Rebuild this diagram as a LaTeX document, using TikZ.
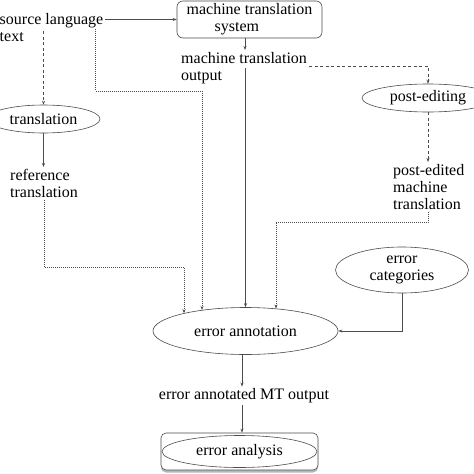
\documentclass[tikz,border=0pt]{standalone}
\usepackage{fontspec}
\setmainfont{Liberation Serif}
\usetikzlibrary{arrows.meta,shapes.geometric,shadows}
\definecolor{linec}{gray}{0.3}
\begin{document}
\begin{tikzpicture}[x=1pt,y=-1pt,
  every node/.style={font=\fontsize{16}{17}\selectfont, text=black},
  txt/.style={inner sep=2pt, align=left, anchor=north west},
  oval/.style={ellipse, draw=linec, line width=0.6pt, inner sep=1pt, align=center},
  box/.style={rectangle, rounded corners=6pt, draw=linec, line width=0.6pt},
  conn/.style={draw=linec, line width=0.6pt, -{Stealth[length=4pt,width=3pt]}},
  dashline/.style={conn, dash pattern=on 3pt off 2.5pt},
  dotline/.style={conn, dash pattern=on 0.8pt off 1.2pt}
]
\useasboundingbox (0,0) rectangle (474,474);
\fill[white] (0,0) rectangle (474,474);

% nodes
\node[txt] (src) at (-2.5,11) {source language\\text};
\node[box, minimum width=145pt, minimum height=37pt, align=left, inner sep=2pt] (mt) at (249.5,19.5)
  {machine translation\\\hspace*{28pt}system};
\node[txt] (mto) at (179,50) {machine translation\\output};
\node[oval, minimum width=113pt, minimum height=28pt] (tr) at (43.5,119) {translation};
\node[txt] (ref) at (8,167) {reference\\translation};
\node[oval, minimum width=132pt, minimum height=28pt] (pe) at (428,98) {post-editing};
\node[txt] (ped) at (391,162) {post-edited\\machine\\translation};
\node[oval, minimum width=133pt, minimum height=46pt] (ec) at (402,270) {error\\categories};
\node[oval, minimum width=185pt, minimum height=47pt] (ea) at (245.5,331) {error annotation};
\node[inner sep=2pt] (eamt) at (244,396) {error annotated MT output};
\node[box, rounded corners=5pt, fill=white, minimum width=157pt, minimum height=37pt,
  drop shadow={shadow xshift=0pt, shadow yshift=-2.5pt, fill=gray!70, opacity=0.8}] (ean) at (239.5,451.5) {};
\node[oval, minimum width=155pt, minimum height=32pt] (eane) at (ean.center) {error analysis};

% helper coordinates
\coordinate (s1) at ([yshift=-4pt]src.east);
\coordinate (s2) at ([xshift=-10pt,yshift=-2pt]src.east);
\coordinate (mx) at (245,0);
\coordinate (ax) at (242,0);
\coordinate (j1) at (184,267);
\coordinate (j2) at (202,91);
\coordinate (j3) at (276,222);

% connectors
\draw[conn] (src.east |- mt.west) -- (mt.west);
\draw[conn] (mx |- mt.south) -- (mx |- mto.north);
\draw[conn] (mto.east -| ea.north) -- (ea.north);
\draw[dashline] ([yshift=2pt]mto.east) -| (pe.north);
\draw[dashline] (pe.south) -- (pe.south |- ped.north);
\draw[dotline] (ped.south) |- (j3) -- (j3 |- ea.36.5);
\draw[dashline] (tr.north |- s1) -- (tr.north);
\draw[conn] (tr.south) -- (tr.south |- ref.north);
\draw[dotline] (ref.south) |- (j1) -- (j1 |- ea.164.3);
\draw[dotline] (s2) |- (j2) -- (j2 |- ea.154.8);
\draw[conn] (ec.south) |- (ea.east);
\draw[conn] (ax |- ea.south) -- (ax |- eamt.north);
\draw[conn] (ax |- eamt.south) -- (ax |- ean.north);
\end{tikzpicture}
\end{document}
